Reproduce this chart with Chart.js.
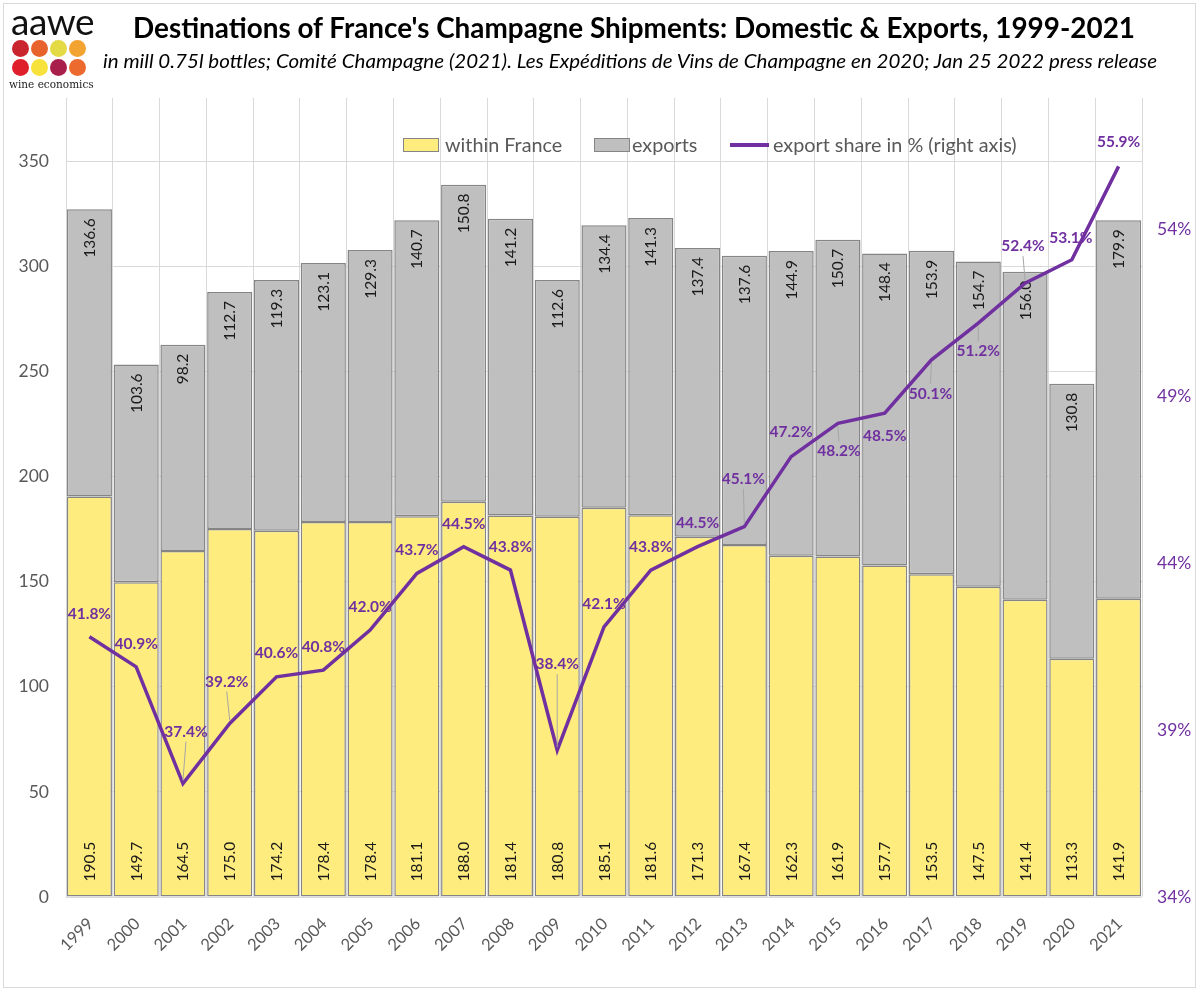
<!DOCTYPE html>
<html><head><meta charset="utf-8">
<script src="https://cdn.jsdelivr.net/npm/chart.js@4/dist/chart.umd.min.js"></script>
<style>
html,body{margin:0;padding:0;background:#fff;}
#wrap{position:relative;width:1200px;height:991px;overflow:hidden;background:#fff;}
#frame{position:absolute;left:3px;top:3px;width:1193px;height:985px;border:1px solid #D9D9D9;box-sizing:border-box;pointer-events:none;}
canvas{position:absolute;left:0;top:0;}
.fit{position:absolute;white-space:nowrap;transform-origin:left top;color:#000;}
#title{font-family:Lato,sans-serif;font-weight:bold;font-size:29px;top:9px;}
#subtitle{font-family:Lato,sans-serif;font-style:italic;font-size:19px;top:49px;}
#logo{position:absolute;left:9px;top:2px;width:90px;height:90px;}
#logo .aawe{position:absolute;left:2px;top:-4px;font-family:Lato,sans-serif;font-size:37px;color:#111;letter-spacing:-0.5px;}
#logo .dot{position:absolute;width:17px;height:17px;border-radius:50%;}
#logo .we{position:absolute;left:0px;top:76px;font-family:"DejaVu Serif",serif;font-size:10.5px;color:#222;white-space:nowrap;}
</style></head>
<body>
<div id="wrap">
<canvas id="c" width="1200" height="991"></canvas>
<div id="frame"></div>
<div id="logo">
  <div class="aawe">aawe</div>
  <div class="dot" style="left:3px;top:38px;background:#C9252F"></div>
  <div class="dot" style="left:22px;top:38px;background:#E8632B"></div>
  <div class="dot" style="left:41px;top:38px;background:#E3DA45"></div>
  <div class="dot" style="left:60px;top:38px;background:#F2A330"></div>
  <div class="dot" style="left:3px;top:57px;background:#E01F2D"></div>
  <div class="dot" style="left:22px;top:57px;background:#F6E23A"></div>
  <div class="dot" style="left:41px;top:57px;background:#A91F4B"></div>
  <div class="dot" style="left:60px;top:57px;background:#EC6A2E"></div>
  <div class="we">wine economics</div>
</div>
<div id="title" class="fit">Destinations of France's Champagne Shipments: Domestic &amp; Exports, 1999-2021</div>
<div id="subtitle" class="fit">in mill 0.75l bottles; Comité Champagne (2021). Les Expéditions de Vins de Champagne en 2020; Jan 25 2022 press release</div>
</div>
<script>
// ---- data ----
const years = ['1999','2000','2001','2002','2003','2004','2005','2006','2007','2008','2009','2010','2011','2012','2013','2014','2015','2016','2017','2018','2019','2020','2021'];
const withinFrance = [190.5,149.7,164.5,175.0,174.2,178.4,178.4,181.1,188.0,181.4,180.8,185.1,181.6,171.3,167.4,162.3,161.9,157.7,153.5,147.5,141.4,113.3,141.9];
const exportsVol = [136.6,103.6,98.2,112.7,119.3,123.1,129.3,140.7,150.8,141.2,112.6,134.4,141.3,137.4,137.6,144.9,150.7,148.4,153.9,154.7,156.0,130.8,179.9];
const exportShare = [41.8,40.9,37.4,39.2,40.6,40.8,42.0,43.7,44.5,43.8,38.4,42.1,43.8,44.5,45.1,47.2,48.2,48.5,50.1,51.2,52.4,53.1,55.9];
const leftTicks = [0,50,100,150,200,250,300,350];
const rightTicks = [34,39,44,49,54];
const seriesNames = ['within France','exports','export share in % (right axis)'];

// ---- label placement (pixel offsets from each line point, leader flag) ----
const shareLabelPlacement = [
  [0,-23,0],[0,-23,0],[3,-52,1],[-3,-42,1],[0,-24,0],[0,-23,0],[0,-23,0],[0,-23,0],
  [0,-23,0],[0,-23,0],[0,-86,1],[0,-23,0],[0,-23,0],[0,-24,0],[-1,-48,1],[0,-25,0],
  [1,28,1],[0,23,0],[-1,34,1],[0,28,1],[-2,-37,1],[-1,-22,0],[0,-24,0]
];

function fitText(id, left, width){
  const el=document.getElementById(id);
  el.style.left=left+'px';
  const w=el.getBoundingClientRect().width;
  el.style.transform='scaleX('+(width/w)+')';
}
fitText('title',133,1002);
fitText('subtitle',103,1054);

const YELLOW='#FFEC7E', GRAY='#BFBFBF', PURPLE='#7030A0', BORDER='#858585', TXT='#595959';
Chart.defaults.font.family='Lato, sans-serif';

const labelPlugin = {
  id:'customLabels',
  beforeDatasetDraw(chart,args){
    if(args.index!==2) return;
    const ctx=chart.ctx;
    const mF=chart.getDatasetMeta(0), mE=chart.getDatasetMeta(1);
    ctx.save();
    ctx.font='15.5px Lato'; ctx.fillStyle='#1A1A1A'; ctx.textBaseline='middle';
    mF.data.forEach((bar,i)=>{
      ctx.save(); ctx.translate(bar.x+0.5, bar.base-15); ctx.rotate(-Math.PI/2);
      ctx.textAlign='left'; ctx.fillText(withinFrance[i].toFixed(1),0,0); ctx.restore();
    });
    mE.data.forEach((bar,i)=>{
      ctx.save(); ctx.translate(bar.x+0.5, bar.y+9); ctx.rotate(-Math.PI/2);
      ctx.textAlign='right'; ctx.fillText(exportsVol[i].toFixed(1),0,0); ctx.restore();
    });
    ctx.restore();
  },
  afterDatasetsDraw(chart){
    const ctx=chart.ctx;
    const mL=chart.getDatasetMeta(2);
    ctx.save();
    ctx.font='bold 15.5px Lato'; ctx.textAlign='center'; ctx.textBaseline='middle';
    mL.data.forEach((pt,i)=>{
      const [dx,dy,lead]=shareLabelPlacement[i];
      const lx=pt.x+dx, ly=pt.y+dy;
      if(lead){
        ctx.strokeStyle='#A6A6A6'; ctx.lineWidth=1;
        ctx.beginPath();
        if(dy<0){ ctx.moveTo(lx, ly+10); ctx.lineTo(pt.x, pt.y-3); }
        else { ctx.moveTo(lx, ly-10); ctx.lineTo(pt.x, pt.y+3); }
        ctx.stroke();
      }
      ctx.fillStyle=PURPLE;
      ctx.fillText(exportShare[i].toFixed(1)+'%', lx, ly);
    });
    // category labels (rotated 45°), positioned from the x scale
    const xs=chart.scales.x;
    ctx.font='16.5px Lato'; ctx.fillStyle=TXT; ctx.textAlign='right'; ctx.textBaseline='middle';
    chart.data.labels.forEach((lab,i)=>{
      ctx.save(); ctx.translate(xs.getPixelForTick(i)+1, chart.chartArea.bottom+24); ctx.rotate(-Math.PI/4);
      ctx.fillText(lab,0,0); ctx.restore();
    });
    // legend
    const ds=chart.data.datasets;
    const y=145;
    const boxX=[403,594], textX=[445,632];
    ctx.font='19.8px Lato'; ctx.textAlign='left'; ctx.textBaseline='middle';
    [0,1].forEach(k=>{
      ctx.fillStyle=ds[k].backgroundColor; ctx.fillRect(boxX[k],y-7,36,14);
      ctx.strokeStyle=BORDER; ctx.lineWidth=1; ctx.strokeRect(boxX[k]+0.5,y-6.5,35,13);
      ctx.fillStyle=TXT; ctx.fillText(ds[k].label, textX[k], y+1);
    });
    ctx.strokeStyle=PURPLE; ctx.lineWidth=4; ctx.beginPath(); ctx.moveTo(730,y); ctx.lineTo(769,y); ctx.stroke();
    ctx.fillStyle=TXT; ctx.fillText(ds[2].label, 773, y+1);
    ctx.restore();
  }
};

new Chart(document.getElementById('c'), {
  data:{
    labels: years,
    datasets:[
      {type:'bar', label:seriesNames[0], data:withinFrance, backgroundColor:YELLOW, borderColor:BORDER, borderWidth:1.5, borderSkipped:false, yAxisID:'y', stack:'s', order:2, barPercentage:0.965, categoryPercentage:1},
      {type:'bar', label:seriesNames[1], data:exportsVol, backgroundColor:GRAY, borderColor:BORDER, borderWidth:1.5, borderSkipped:false, yAxisID:'y', stack:'s', order:2, barPercentage:0.965, categoryPercentage:1},
      {type:'line', label:seriesNames[2], data:exportShare, borderColor:PURPLE, backgroundColor:PURPLE, borderWidth:3.5, pointRadius:0, tension:0, yAxisID:'y2', order:0}
    ]
  },
  options:{
    responsive:false, animation:false, devicePixelRatio:1,
    layout:{padding:{top:98,left:6,right:4,bottom:4}},
    plugins:{legend:{display:false}, tooltip:{enabled:false}, title:{display:false}},
    scales:{
      x:{stacked:true, offset:true,
         grid:{display:true, offset:true, color:'#D9D9D9', drawTicks:false},
         border:{display:false},
         ticks:{display:false, autoSkip:false},
         afterFit:s=>{s.height=90;}},
      y:{stacked:true, position:'left', min:0, max:380,
         grid:{color:'#D9D9D9', drawTicks:false}, border:{display:false},
         afterBuildTicks:s=>{s.ticks=leftTicks.map(v=>({value:v}));},
         ticks:{color:TXT, font:{size:17.5}, padding:17},
         afterFit:s=>{s.width=60;}},
      y2:{position:'right', min:34, max:57.95,
         grid:{display:false, drawTicks:false}, border:{display:false},
         afterBuildTicks:s=>{s.ticks=rightTicks.map(v=>({value:v}));},
         ticks:{color:PURPLE, font:{size:17.5}, padding:15, callback:v=>v+'%'},
         afterFit:s=>{s.width=54;}}
    }
  },
  plugins:[labelPlugin]
});
</script>
</body></html>
